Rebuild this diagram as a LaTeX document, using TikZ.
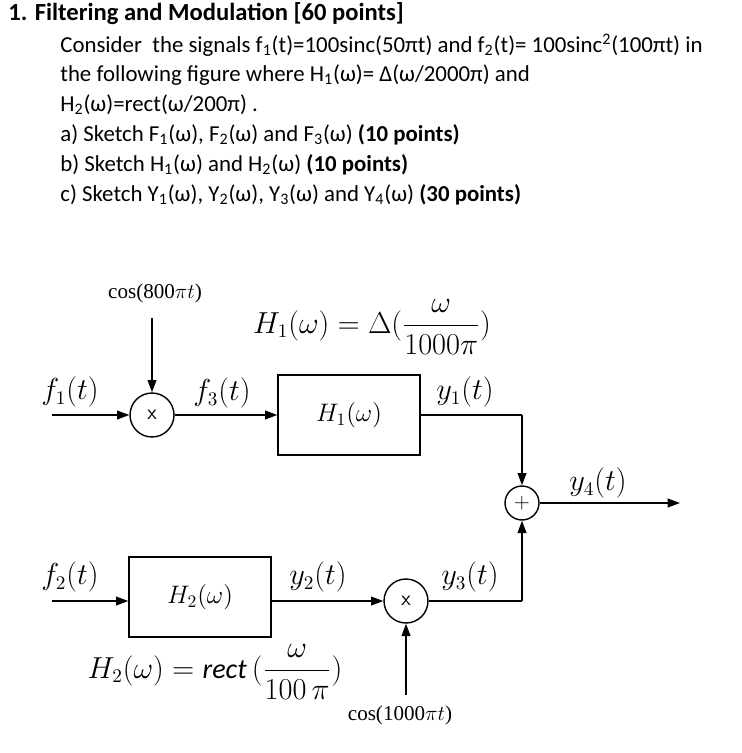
\documentclass[tikz,border=0pt]{standalone}
\usepackage{fontspec}
\setmainfont{Carlito}
\newfontfamily\tms{Liberation Serif}
\usetikzlibrary{arrows.meta}
\begin{document}
\begin{tikzpicture}[x=0.02cm,y=-0.02cm,
  sig/.style={-{Triangle[length=7pt,width=5pt]},line width=0.8pt},
  wire/.style={line width=0.8pt},
  blk/.style={draw,line width=0.8pt,minimum width=2.84cm,minimum height=1.6cm,inner sep=0},
  opc/.style={draw,circle,line width=0.8pt,minimum size=0.88cm,inner sep=0,font=\sffamily\large},
  txt/.style={anchor=west,inner sep=0,font=\fontsize{13}{15}\selectfont},
  lbl/.style={inner sep=0,font=\tms\fontsize{16}{18}\selectfont}]
\useasboundingbox (0,0) rectangle (742,753);
\node[txt,font=\bfseries\fontsize{14}{16}\selectfont] (t0) at (8,14) {1. Filtering and Modulation [60 points]};
\node[txt] (t1) at (60,45) {Consider\ \ the signals f\textsubscript{1}(t)=100sinc(50πt) and f\textsubscript{2}(t)= 100sinc\textsuperscript{2}(100πt) in};
\node[txt] (t2) at (60,75) {the following figure where H\textsubscript{1}(ω)= Δ(ω/2000π) and};
\node[txt] (t3) at (60,105) {H\textsubscript{2}(ω)=rect(ω/200π) .};
\node[txt] (t4) at (60,135) {a) Sketch F\textsubscript{1}(ω),\ F\textsubscript{2}(ω) and F\textsubscript{3}(ω) \textbf{(10 points)}};
\node[txt] (t5) at (60,165) {b) Sketch H\textsubscript{1}(ω) and H\textsubscript{2}(ω) \textbf{(10 points)}};
\node[txt] (t6) at (60,195) {c) Sketch Y\textsubscript{1}(ω),\ Y\textsubscript{2}(ω), Y\textsubscript{3}(ω) and Y\textsubscript{4}(ω) \textbf{(30 points)}};

\node[opc] (m1) at (152,415) {x};
\node[blk] (h1) at (349,415) {\Large$H_1(\omega)$};
\node[opc,minimum size=0.68cm] (pl) at (522,503) {+};
\node[blk] (h2) at (200,597) {\Large$H_2(\omega)$};
\node[opc] (m2) at (406,601) {x};

\coordinate (f1s) at (52,415);
\coordinate (c1s) at (152,318);
\coordinate (f2s) at (52,601);
\coordinate (c2s) at (406,695);
\coordinate (y4e) at (680,503);
\coordinate (k1) at (522,415);
\coordinate (k2) at (522,601);

\draw[sig] (f1s) -- (m1);
\draw[sig] (c1s) -- (m1);
\draw[sig] (m1) -- (h1);
\draw[wire] (h1) -- (k1);
\draw[sig] (k1) -- (pl);
\draw[sig] (pl) -- (y4e);
\draw[sig] (f2s) -- (h2.west|-f2s);
\draw[sig] (h2.east|-m2) -- (m2);
\draw[sig] (c2s) -- (m2);
\draw[wire] (m2) -- (k2);
\draw[sig] (k2) -- (pl);

\node[lbl] (lc1) at (155,293) {\large cos(800$\pi t$)};
\node[lbl] (lf1) at (70,392) {$f_1(t)$};
\node[lbl] (lf3) at (222,393) {$f_3(t)$};
\node[lbl] (lh1) at (372,327) {$H_1(\omega)=\Delta(\displaystyle\frac{\omega}{1000\pi})$};
\node[lbl] (ly1) at (465,392) {$y_1(t)$};
\node[lbl] (ly4) at (598,483) {$y_4(t)$};
\node[lbl] (lf2) at (70,577) {$f_2(t)$};
\node[lbl] (ly2) at (318,577) {$y_2(t)$};
\node[lbl] (ly3) at (470,577) {$y_3(t)$};
\node[lbl] (lh2) at (215,672) {$H_2(\omega)=\mathit{rect}\,(\displaystyle\frac{\omega}{100\,\pi})$};
\node[lbl] (lc2) at (400,715) {\large cos(1000$\pi t$)};
\end{tikzpicture}
\end{document}
